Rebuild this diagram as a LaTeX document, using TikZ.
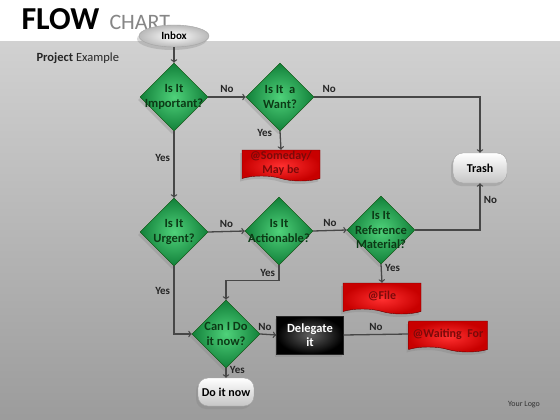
\documentclass[tikz,border=0pt]{standalone}
\usepackage{fontspec}
\setmainfont{Carlito}
\usetikzlibrary{shapes.geometric,shapes.symbols,shadows}
\definecolor{linegray}{HTML}{474747}
\definecolor{lightgreen}{HTML}{4FD27A}
\definecolor{darkgreen}{HTML}{12803A}
\definecolor{qtextcol}{HTML}{0C3A16}
\definecolor{lightred}{HTML}{FF3030}
\definecolor{darkred}{HTML}{C80000}
\definecolor{redtext}{HTML}{7A0A0A}

\begin{document}
\begin{tikzpicture}
    [x=1pt,y=-1pt,
     question/.style={diamond,minimum size=68pt,inner sep=0pt,draw=green!30!black,
        inner color=lightgreen,outer color=darkgreen,
        drop shadow={shadow xshift=-2pt,shadow yshift=-3pt,opacity=.3}},
     qtext/.style={align=center,text=qtextcol,font=\bfseries\fontsize{12.5}{14.5}\selectfont},
     redbox/.style={tape,tape bend top=none,tape bend bottom=out and in,tape bend height=5pt,
        draw=red!40!black,inner color=lightred,outer color=darkred,
        text=redtext,align=center,font=\bfseries\fontsize{12}{14.5}\selectfont,
        minimum width=78pt,minimum height=31pt,inner sep=0pt,
        drop shadow={shadow xshift=-2pt,shadow yshift=-3pt,opacity=.3}},
     endbox/.style={rectangle,rounded corners=10pt,draw=gray!70,
        top color=white,bottom color=gray!45,
        font=\bfseries\fontsize{12}{14.5}\selectfont,inner sep=0pt,
        drop shadow={shadow xshift=-2pt,shadow yshift=-3pt,opacity=.3}},
     flow/.style={draw=linegray,line width=1.3pt},
     ans/.style={font=\bfseries\fontsize{11}{13}\selectfont,text=black!85}]
\useasboundingbox (0,0) rectangle (560,420);
\fill [white] (0,0) rectangle (560,42);
\shade [top color=gray!36,bottom color=gray!78] (0,42) rectangle (560,420);
% title
\path
    (18,30) node [anchor=base west,font=\bfseries\fontsize{32}{34}\selectfont] (flowword) {FLOW}
    (flowword.base east) node [anchor=base west,xshift=3pt,text=gray!95,
        font=\fontsize{22}{24}\selectfont] (chartword) {CHART}
    (33,62) node [anchor=base west,font=\fontsize{12.5}{15}\selectfont,text=black!85] (project)
        {\textbf{Project} Example}
    (524,405) node [font=\fontsize{8}{10}\selectfont,text=black!80] (logo) {Your Logo};
% start and end
\node [ellipse,minimum width=70pt,minimum height=22pt,inner sep=0pt,draw=gray!70,
    inner color=white,outer color=gray!55,font=\bfseries\fontsize{11}{13}\selectfont,
    drop shadow={shadow xshift=-2pt,shadow yshift=-3pt,opacity=.3}] (inbox) at (174,36) {Inbox};
\node [endbox,minimum width=54pt,minimum height=30pt] (trash) at (480,168) {Trash};
\node [endbox,minimum width=56pt,minimum height=28pt] (doitnow) at (226,392) {Do it now};
% questions
\node [question,label={[qtext]center:Is It\\Important?}] (important) at (174,97) {};
\node [question,label={[qtext]center:Is It\ \ a\\Want?}] (want) at (280,97) {};
\node [question,label={[qtext]center:Is It\\Urgent?}] (urgent) at (174,232) {};
\node [question,label={[qtext]center:Is It\\Actionable?}] (actionable) at (279,231) {};
\node [question,label={[qtext]center:Is It\\Reference\\Material?}] (reference) at (381,230) {};
\node [question,label={[qtext]center:Can I Do\\it now?}] (candoit) at (226,334) {};
% outcomes
\node [redbox] (someday) at (281,163) {@Someday/\\May be};
\node [redbox] (file) at (382,296) {@File};
\node [redbox,minimum width=79pt] (waiting) at (448,334) {@Waiting\ \ For};
\node [rectangle,draw=gray!30!black,inner color=gray!75!black,outer color=black,
    text=white,align=center,font=\bfseries\fontsize{12.5}{14.5}\selectfont,
    minimum width=67pt,minimum height=38pt,inner sep=0pt,
    drop shadow={shadow xshift=-2pt,shadow yshift=-3pt,opacity=.3}] (delegate) at (310,335)
    {Delegate\\it};
% connectors
\draw [flow,->] (inbox.south) -- (important.north);
\draw [flow,->] (important.east) -- node [ans,above] {No} (want.west);
\draw [flow,->] (want.east) -| node [ans,above,pos=.045] {No} (trash.north);
\draw [flow,->] (want.south) -- node [ans,left,pos=.1,xshift=-4pt] {Yes} (someday.north);
\draw [flow,->] (important.south) -- node [ans,left,pos=.4] {Yes} (urgent.north);
\draw [flow,->] (urgent.east) -- node [ans,above] {No} (actionable.west);
\draw [flow,->] (actionable.east) -- node [ans,above] {No} (reference.west);
\draw [flow,->] (reference.east) -| node [ans,right,pos=.82] {No} (trash.south);
\draw [flow,->] (reference.south) -- node [ans,right,pos=.2] {Yes} (file.north);
\draw [flow,->] (actionable.south) -- node [ans,left] {Yes} ++(0,15) -| (candoit.north);
\draw [flow,->] (urgent.south) |- node [ans,left,pos=.18] {Yes} (candoit.west);
\draw [flow,->] (candoit.east) -- node [ans,above,pos=.3] {No} (delegate.west);
\draw [flow] (delegate.east) -- node [ans,above] {No} (waiting.west);
\draw [flow,->] (candoit.south) -- node [ans,right,pos=.2] {Yes} (doitnow.north);
\end{tikzpicture}
\end{document}
